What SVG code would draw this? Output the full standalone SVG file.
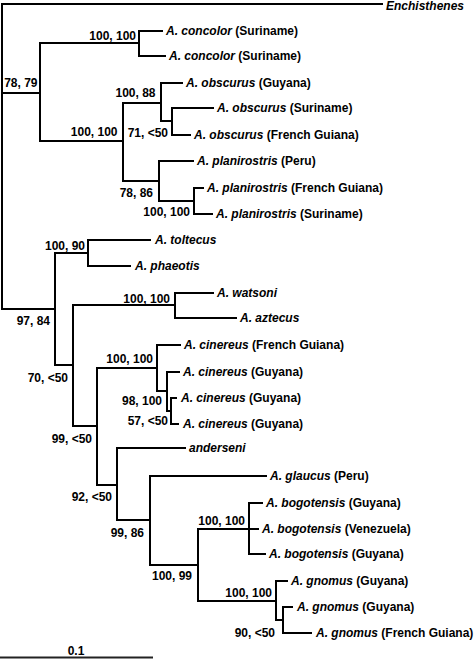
<svg xmlns="http://www.w3.org/2000/svg" width="474" height="659" viewBox="0 0 474 659">
<style>
  .br { fill: none; stroke: #000; stroke-width: 2; stroke-linecap: square; }
  text { font-family: "Liberation Sans", Arial, sans-serif; font-size: 12px; font-weight: bold; fill: #000; }
  .sp { font-style: italic; }
  .sup { text-anchor: end; }
</style>
<rect width="474" height="659" fill="#fff"/>
<g id="connectors" class="br">
  <path d="M2,4 V309 M2,4 H382 M2,93 H40 M2,309 H55"/>
  <path d="M40,43 V141 M40,43 H139 M40,141 H123"/>
  <path d="M139,31 V56 M139,31 H162 M139,56 H165"/>
  <path d="M123,103 V181 M123,103 H161 M123,181 H159"/>
  <path d="M161,83 V121 M161,83 H182 M161,121 H172"/>
  <path d="M172,108 V135 M172,108 H213 M172,135 H190"/>
  <path d="M159,161 V201 M159,161 H193 M159,201 H194"/>
  <path d="M194,188 V214 M194,188 H203 M194,214 H212"/>
  <path d="M55,253 V365 M55,253 H88 M55,365 H73"/>
  <path d="M88,240 V266 M88,240 H150 M88,266 H130"/>
  <path d="M73,305 V426 M73,305 H175 M73,426 H97"/>
  <path d="M175,293 V318 M175,293 H213 M175,318 H236"/>
  <path d="M97,368 V485 M97,368 H157 M97,485 H117"/>
  <path d="M157,345 V391 M157,345 H180 M157,391 H167"/>
  <path d="M167,372 V411 M167,372 H179 M167,411 H171"/>
  <path d="M171,398 V424 M171,398 H176 M171,424 H178"/>
  <path d="M117,448 V520 M117,448 H185 M117,520 H150"/>
  <path d="M150,476 V565 M150,476 H266 M150,565 H198"/>
  <path d="M198,529 V601 M198,529 H249 M198,601 H276"/>
  <path d="M249,503 V554 M249,503 H262 M249,529 H258 M249,554 H265"/>
  <path d="M276,581 V620 M276,581 H287 M276,620 H283"/>
  <path d="M283,607 V633 M283,607 H292 M283,633 H311"/>
</g>
<g id="tip-enchisthenes"><text x="386" y="10" class="sp">Enchisthenes</text></g>
<g id="tip-concolor-1"><text x="166" y="35"><tspan class="sp">A. concolor</tspan> (Suriname)</text></g>
<g id="tip-concolor-2"><text x="169" y="60"><tspan class="sp">A. concolor</tspan> (Suriname)</text></g>
<g id="tip-obscurus-guyana"><text x="186" y="87"><tspan class="sp">A. obscurus</tspan> (Guyana)</text></g>
<g id="tip-obscurus-suriname"><text x="217" y="112"><tspan class="sp">A. obscurus</tspan> (Suriname)</text></g>
<g id="tip-obscurus-fg"><text x="194" y="139"><tspan class="sp">A. obscurus</tspan> (French Guiana)</text></g>
<g id="tip-planirostris-peru"><text x="197" y="165"><tspan class="sp">A. planirostris</tspan> (Peru)</text></g>
<g id="tip-planirostris-fg"><text x="207" y="192"><tspan class="sp">A. planirostris</tspan> (French Guiana)</text></g>
<g id="tip-planirostris-suriname"><text x="216" y="218"><tspan class="sp">A. planirostris</tspan> (Suriname)</text></g>
<g id="tip-toltecus"><text x="155" y="244" class="sp">A. toltecus</text></g>
<g id="tip-phaeotis"><text x="135" y="270" class="sp">A. phaeotis</text></g>
<g id="tip-watsoni"><text x="217" y="297" class="sp">A. watsoni</text></g>
<g id="tip-aztecus"><text x="240" y="322" class="sp">A. aztecus</text></g>
<g id="tip-cinereus-fg"><text x="184" y="349"><tspan class="sp">A. cinereus</tspan> (French Guiana)</text></g>
<g id="tip-cinereus-guyana-1"><text x="183" y="376"><tspan class="sp">A. cinereus</tspan> (Guyana)</text></g>
<g id="tip-cinereus-guyana-2"><text x="181" y="402"><tspan class="sp">A. cinereus</tspan> (Guyana)</text></g>
<g id="tip-cinereus-guyana-3"><text x="183" y="428"><tspan class="sp">A. cinereus</tspan> (Guyana)</text></g>
<g id="tip-anderseni"><text x="189" y="452" class="sp">anderseni</text></g>
<g id="tip-glaucus"><text x="270" y="480"><tspan class="sp">A. glaucus</tspan> (Peru)</text></g>
<g id="tip-bogotensis-guyana-1"><text x="266" y="507"><tspan class="sp">A. bogotensis</tspan> (Guyana)</text></g>
<g id="tip-bogotensis-venezuela"><text x="262" y="533"><tspan class="sp">A. bogotensis</tspan> (Venezuela)</text></g>
<g id="tip-bogotensis-guyana-2"><text x="269" y="558"><tspan class="sp">A. bogotensis</tspan> (Guyana)</text></g>
<g id="tip-gnomus-guyana-1"><text x="291" y="585"><tspan class="sp">A. gnomus</tspan> (Guyana)</text></g>
<g id="tip-gnomus-guyana-2"><text x="297" y="611"><tspan class="sp">A. gnomus</tspan> (Guyana)</text></g>
<g id="tip-gnomus-fg"><text x="316" y="637"><tspan class="sp">A. gnomus</tspan> (French Guiana)</text></g>
<g id="support-labels" class="sup">
  <g id="n1"><text x="37.5" y="86.5" class="sup">78, 79</text></g>
  <g id="n-concolor"><text x="136" y="39.5" class="sup">100, 100</text></g>
  <g id="n2"><text x="117.5" y="136" class="sup">100, 100</text></g>
  <g id="n-obscurus"><text x="155.5" y="97" class="sup">100, 88</text></g>
  <g id="n-obscurus-inner"><text x="168" y="136.5" class="sup">71, &lt;50</text></g>
  <g id="n-planirostris"><text x="153" y="196.5" class="sup">78, 86</text></g>
  <g id="n-planirostris-inner"><text x="190" y="216" class="sup">100, 100</text></g>
  <g id="n3"><text x="50" y="324.5" class="sup">97, 84</text></g>
  <g id="n-toltecus"><text x="85" y="249.5" class="sup">100, 90</text></g>
  <g id="n-e"><text x="68" y="381.5" class="sup">70, &lt;50</text></g>
  <g id="n-watsoni"><text x="170" y="302.5" class="sup">100, 100</text></g>
  <g id="n-f"><text x="92" y="442.5" class="sup">99, &lt;50</text></g>
  <g id="n-cinereus"><text x="153" y="362.5" class="sup">100, 100</text></g>
  <g id="n-cinereus-g"><text x="162" y="404.5" class="sup">98, 100</text></g>
  <g id="n-cinereus-h"><text x="168" y="424.5" class="sup">57, &lt;50</text></g>
  <g id="n-i"><text x="112" y="500.5" class="sup">92, &lt;50</text></g>
  <g id="n-j"><text x="144" y="536.5" class="sup">99, 86</text></g>
  <g id="n-k"><text x="192" y="579.5" class="sup">100, 99</text></g>
  <g id="n-bogotensis"><text x="245" y="524.5" class="sup">100, 100</text></g>
  <g id="n-gnomus"><text x="272" y="597" class="sup">100, 100</text></g>
  <g id="n-gnomus-inner"><text x="275" y="636.5" class="sup">90, &lt;50</text></g>
</g>
<g id="scale-bar">
  <line x1="0" y1="657.5" x2="153" y2="657.5" stroke="#222" stroke-width="2"/>
  <text x="76" y="655" text-anchor="middle">0.1</text>
</g>
</svg>
